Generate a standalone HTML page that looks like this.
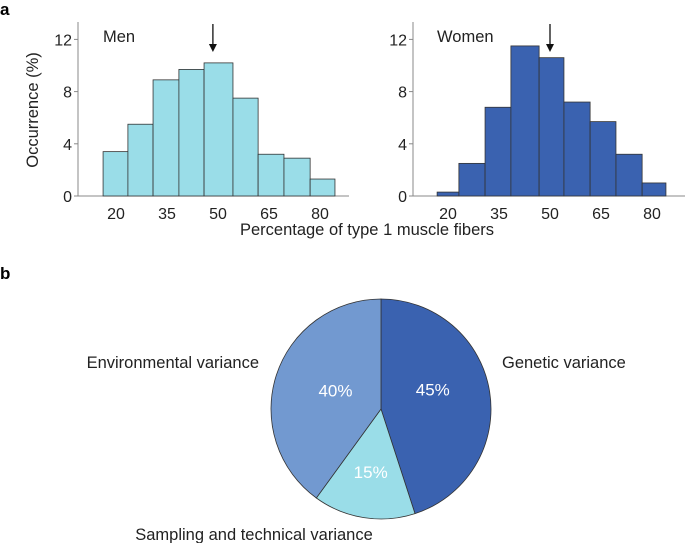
<!DOCTYPE html>
<html><head><meta charset="utf-8"><style>
body{margin:0;background:#fff;width:685px;height:543px;overflow:hidden}
svg{display:block;font-family:"Liberation Sans",Arial,sans-serif}
</style></head><body>
<svg id="fig" width="685" height="543" viewBox="0 0 685 543">
<text x="0" y="15" font-size="17" font-weight="bold">a</text>
<text x="0" y="279" font-size="17" font-weight="bold">b</text>
<g id="men"></g>
<g id="women"></g>
<text x="38" y="110" font-size="16.5" text-anchor="middle" transform="rotate(-90 38 110)" fill="#222">Occurrence (%)</text>
<text x="367" y="235" font-size="16.5" text-anchor="middle" fill="#222">Percentage of type 1 muscle fibers</text>
<g id="pie"></g>
<text x="259" y="368" font-size="16.5" text-anchor="end" fill="#222">Environmental variance</text>
<text x="502" y="368" font-size="16.5" fill="#222">Genetic variance</text>
<text x="254" y="540" font-size="16.5" text-anchor="middle" fill="#222">Sampling and technical variance</text>
</svg>
<script>
const binEdges=[16.2,23.5,30.9,38.5,45.9,54.4,61.8,69.4,77.1,84.4];
const menValues=[3.4,5.5,8.9,9.7,10.2,7.5,3.2,2.9,1.3];
const womenEdges=[16.8,23.2,30.9,38.5,46.8,54.1,61.8,69.4,77.1,84.1];
const womenValues=[0.3,2.5,6.8,11.5,10.6,7.2,5.7,3.2,1.0];
const xTicks=[20,35,50,65,80];
const yTicks=[0,4,8,12];
const menArrow=48.5, womenArrow=50;
const pieLabels=["45%","15%","40%"];
const pieValues=[45,15,40];
const NS="http://www.w3.org/2000/svg";
function mk(p,t,a){const e=document.createElementNS(NS,t);for(const k in a)e.setAttribute(k,a[k]);p.appendChild(e);return e;}
function hist(g,ax,x20,axEnd,edges,vals,color,label,arrowV,nm){
  const X=v=>x20+(v-20)*3.4, Y=v=>196-v*13.05;
  const yl=mk(g,'line',{x1:ax,y1:22,x2:ax,y2:196,stroke:'#888','stroke-width':1});
  
  const xl=mk(g,'line',{x1:ax,y1:196,x2:axEnd,y2:196,stroke:'#888','stroke-width':1});
  
  yTicks.forEach(t=>{
    mk(g,'line',{x1:ax-4,y1:Y(t),x2:ax,y2:Y(t),stroke:'#888'});
    const tx=mk(g,'text',{x:ax-6,y:Y(t)+6,'font-size':16,'text-anchor':'end',fill:'#222'});tx.textContent=t;
    
  });
  xTicks.forEach(t=>{
    const tx=mk(g,'text',{x:X(t),y:219,'font-size':16,'text-anchor':'middle',fill:'#222'});tx.textContent=t;
    
  });
  vals.forEach((v,i)=>{
    const r=mk(g,'rect',{x:X(edges[i]),y:Y(v),width:X(edges[i+1])-X(edges[i]),height:Y(0)-Y(v),fill:color,stroke:'#333','stroke-width':0.8});
    
  });
  const lt=mk(g,'text',{x:ax+(nm==='men'?25:24),y:42,'font-size':16.5,fill:'#222'});lt.textContent=label;
  
  const ar=mk(g,'g',{});
  
  mk(ar,'line',{x1:X(arrowV),y1:24,x2:X(arrowV),y2:46,stroke:'#111','stroke-width':1.3});
  mk(ar,'polygon',{points:`${X(arrowV)-4},44 ${X(arrowV)+4},44 ${X(arrowV)},52`,fill:'#111'});
}
hist(document.getElementById('men'),78,116,349,binEdges,menValues,'#9adde8','Men',menArrow,'men');
hist(document.getElementById('women'),413,448,685,womenEdges,womenValues,'#3a62b0','Women',womenArrow,'women');
const pg=document.getElementById('pie');
const cx=381,cy=409,R=110,cols=['#3a62b0','#9adde8','#7299d0'];
const labOff=[[-8,-10],[0,-2],[12,0]];
const tot=pieValues.reduce((a,b)=>a+b,0);let a0=0;
pieValues.forEach((v,i)=>{
  const a1=a0+v/tot*2*Math.PI;
  const p=(a)=>[cx+R*Math.sin(a),cy-R*Math.cos(a)];
  const [x0,y0]=p(a0),[x1,y1]=p(a1);
  const s=mk(pg,'path',{d:`M${cx},${cy}L${x0},${y0}A${R},${R} 0 ${a1-a0>Math.PI?1:0} 1 ${x1},${y1}Z`,fill:cols[i],stroke:'#333','stroke-width':0.8});
  
  const m=(a0+a1)/2, rr=i===1?0.6:0.55;
  const t=mk(pg,'text',{x:cx+R*rr*Math.sin(m)+labOff[i][0],y:cy-R*rr*Math.cos(m)+6+labOff[i][1],'font-size':17,'text-anchor':'middle',fill:'#fff'});
  t.textContent=pieLabels[i];
  
  a0=a1;
});
</script>
</body></html>
